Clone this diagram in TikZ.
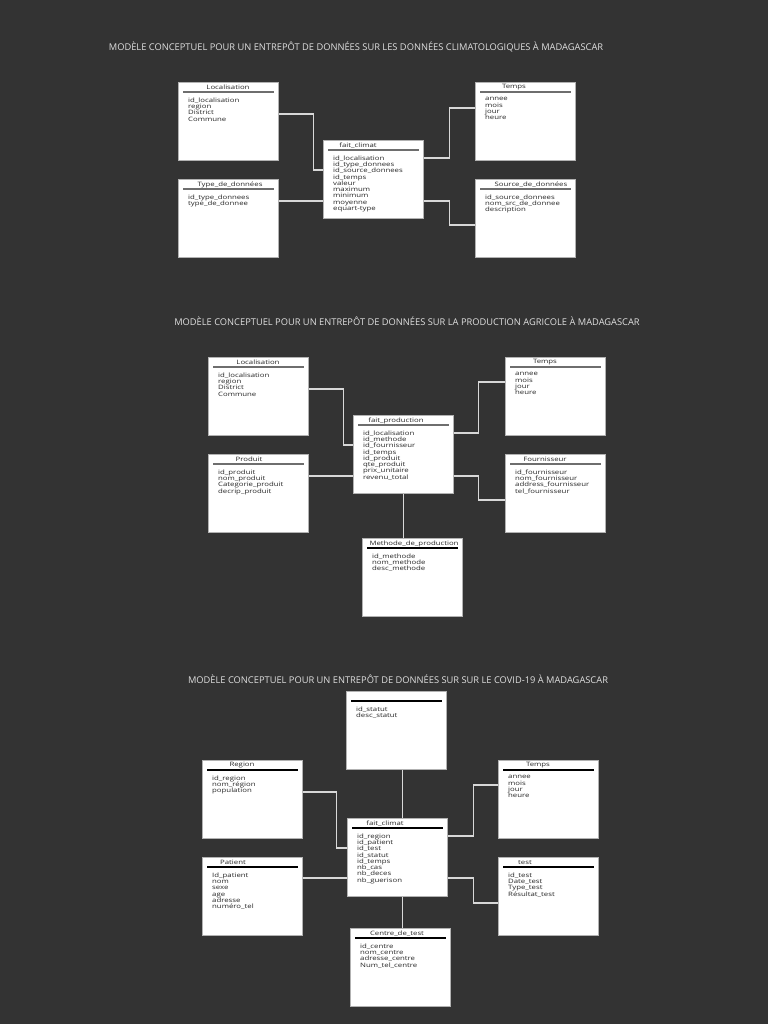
\documentclass[tikz,border=0pt]{standalone}
\usepackage{fontspec}
\setmainfont{Open Sans}
\newfontfamily\champfont[FakeStretch=1.3]{Open Sans}
\usepackage{tikz}
\usetikzlibrary{positioning, calc}

\definecolor{fond}{HTML}{333333}
\definecolor{trait}{HTML}{D8D8D8}
\definecolor{sepgris}{HTML}{6E6E6E}

\tikzset{
  entite/.style={draw=gray!60, fill=white, line width=0.6pt, anchor=north west, minimum width=100, minimum height=78, inner sep=0},
  titre/.style={font=\champfont\fontsize{6}{6.25}\selectfont, inner sep=0, text=black!85},
  champs/.style={font=\champfont\fontsize{6}{6.25}\selectfont, align=left, anchor=north west, inner sep=0, text=black!85},
  sep/.style={line width=1.4pt},
  lien/.style={draw=trait, line width=1.1pt},
  entete/.style={font=\fontsize{9.3}{11}\selectfont, text=white!88!black, inner sep=0}
}

% #1 couleur du filet, #2 nom, #3 #4 coin haut gauche, #5 position du titre, #6 titre, #7 attributs
\newcommand{\entite}[7][sepgris]{%
  \node[entite] (#2) at (#3,#4) {};
  \node[titre] at ([xshift=#5, yshift=-5.5]#2.north west) {#6};
  \draw[sep, #1] ([xshift=5, yshift=-10]#2.north west) -- ([xshift=-5, yshift=-10]#2.north east);
  \node[champs] at ([xshift=10, yshift=-15.5]#2.north west) {#7};
}

\begin{document}
\begin{tikzpicture}[x=1pt, y=-1pt]
  \fill[fond] (0,0) rectangle (768,1024);

  % climat
  \node[entete] (t1) at (356,47) {MODÈLE CONCEPTUEL POUR UN ENTREPÔT DE DONNÉES SUR LES DONNÉES CLIMATOLOGIQUES À MADAGASCAR};
  \entite{loc1}{178}{82}{50}{Localisation}{id\_localisation\\region\\District\\Commune}
  \entite{type1}{178}{179}{52}{Type\_de\_données}{id\_type\_donnees\\type\_de\_donnee}
  \entite{fc1}{323}{140}{35}{fait\_climat}{id\_localisation\\id\_type\_donnees\\id\_source\_donnees\\id\_temps\\valeur\\maximum\\minimum\\moyenne\\equart-type}
  \entite{temps1}{475}{82}{39}{Temps}{annee\\mois\\jour\\heure}
  \entite{src1}{475}{179}{56}{Source\_de\_données}{id\_source\_donnees\\nom\_src\_de\_donnee\\description}
  \draw[lien] ([yshift=-32]loc1.north east) -- ++(35,0) |- ([yshift=-30]fc1.north west);
  \draw[lien] ([yshift=-22]type1.north east) -- ([yshift=-61]fc1.north west);
  \draw[lien] ([yshift=-18]fc1.north east) -- ++(26,0) |- ([yshift=-26]temps1.north west);
  \draw[lien] ([yshift=-61]fc1.north east) -- ++(26,0) |- ([yshift=-46]src1.north west);

  % production agricole
  \node[entete] (t2) at (407,321) {MODÈLE CONCEPTUEL POUR UN ENTREPÔT DE DONNÉES SUR LA PRODUCTION AGRICOLE À MADAGASCAR};
  \entite{loc2}{208}{357}{50}{Localisation}{id\_localisation\\region\\District\\Commune}
  \entite{prod2}{208}{454}{41}{Produit}{id\_produit\\nom\_produit\\Categorie\_produit\\decrip\_produit}
  \entite{fp2}{353}{415}{43}{fait\_production}{id\_localisation\\id\_methode\\id\_fournisseur\\id\_temps\\id\_produit\\qte\_produit\\prix\_unitaire\\revenu\_total}
  \entite{temps2}{505}{357}{40}{Temps}{annee\\mois\\jour\\heure}
  \entite{four2}{505}{454}{40}{Fournisseur}{id\_fournisseur\\nom\_fournisseur\\address\_fournisseur\\tel\_fournisseur}
  \entite[black]{meth2}{362}{538}{52}{Methode\_de\_production}{id\_methode\\nom\_methode\\desc\_methode}
  \draw[lien] ([yshift=-32]loc2.north east) -- ++(35,0) |- ([yshift=-30]fp2.north west);
  \draw[lien] ([yshift=-22]prod2.north east) -- ([yshift=-61]fp2.north west);
  \draw[lien] ([yshift=-18]fp2.north east) -- ++(25,0) |- ([yshift=-25]temps2.north west);
  \draw[lien] ([yshift=-61]fp2.north east) -- ++(25,0) |- ([yshift=-46]four2.north west);
  \draw[lien] (fp2.south) -- (fp2.south |- meth2.north);

  % covid-19
  \node[entete] (t3) at (398,679) {MODÈLE CONCEPTUEL POUR UN ENTREPÔT DE DONNÉES SUR SUR LE COVID-19 À MADAGASCAR};
  \entite[black]{stat3}{346}{691}{50}{}{id\_statut\\desc\_statut}
  \entite[black]{reg3}{202}{760}{40}{Region}{id\_region\\nom\_région\\population}
  \entite[black]{fc3}{347}{818}{38}{fait\_climat}{id\_region\\id\_patient\\id\_test\\id\_statut\\id\_temps\\nb\_cas\\nb\_deces\\nb\_guerison}
  \entite[black]{pat3}{202}{857}{31}{Patient}{Id\_patient\\nom\\sexe\\age\\adresse\\numéro\_tel}
  \entite[black]{temps3}{498}{760}{40}{Temps}{annee\\mois\\jour\\heure}
  \entite[black]{test3}{498}{857}{27}{test}{id\_test\\Date\_test\\Type\_test\\Résultat\_test}
  \entite[black]{centre3}{350}{928}{47}{Centre\_de\_test}{id\_centre\\nom\_centre\\adresse\_centre\\Num\_tel\_centre}
  \draw[lien] ([xshift=5]fc3.north) -- ([xshift=5]fc3.north |- stat3.south);
  \draw[lien] ([yshift=-32]reg3.north east) -- ++(34,0) |- ([yshift=-30]fc3.north west);
  \draw[lien] ([yshift=-21]pat3.north east) -- ([yshift=-60]fc3.north west);
  \draw[lien] ([yshift=-18]fc3.north east) -- ++(26,0) |- ([yshift=-25]temps3.north west);
  \draw[lien] ([yshift=-60]fc3.north east) -- ++(26,0) |- ([yshift=-46]test3.north west);
  \draw[lien] ([xshift=5]fc3.south) -- ([xshift=5]fc3.south |- centre3.north);
\end{tikzpicture}
\end{document}
